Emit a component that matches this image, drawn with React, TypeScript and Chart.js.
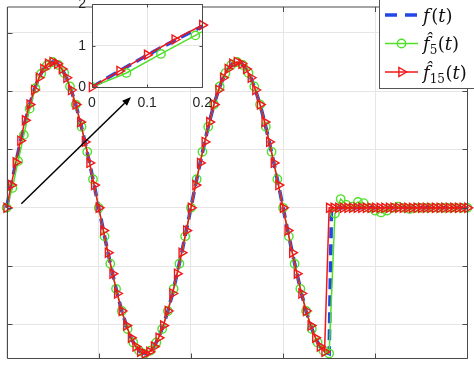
import React, { useEffect, useRef } from "react";
import { Chart, registerables } from "chart.js";

Chart.register(...registerables);

// ---------------- data ----------------
const tRed = [
  0, 0.05, 0.1, 0.15, 0.2, 0.25, 0.3, 0.35, 0.4, 0.45, 0.5, 0.55, 0.6, 0.65, 0.7, 0.75, 0.8, 0.85, 0.9, 0.95,
  1, 1.05, 1.1, 1.15, 1.2, 1.25, 1.3, 1.35, 1.4, 1.45, 1.5, 1.55, 1.6, 1.65, 1.7, 1.75, 1.8, 1.85, 1.9, 1.95,
  2, 2.05, 2.1, 2.15, 2.2, 2.25, 2.3, 2.35, 2.4, 2.45, 2.5, 2.55, 2.6, 2.65, 2.7, 2.75, 2.8, 2.85, 2.9, 2.95,
  3, 3.05, 3.1, 3.15, 3.2, 3.25, 3.3, 3.35, 3.4, 3.45, 3.5, 3.55, 3.6, 3.65, 3.7, 3.75, 3.8, 3.85, 3.9, 3.95,
  4, 4.05, 4.1, 4.15, 4.2, 4.25, 4.3, 4.35, 4.4, 4.45, 4.5, 4.55, 4.6, 4.65, 4.7, 4.75, 4.8, 4.85, 4.9, 4.95, 5,
];
const fRed = [
  0, 0.39, 0.78, 1.15, 1.5, 1.77, 2.02, 2.23, 2.38, 2.47, 2.5, 2.47, 2.38, 2.23, 2.02, 1.77, 1.47, 1.13, 0.77, 0.39,
  0, -0.39, -0.77, -1.13, -1.47, -1.77, -2.02, -2.23, -2.38, -2.47, -2.5, -2.47, -2.38, -2.23, -2.02, -1.77, -1.47, -1.13, -0.77, -0.39,
  0, 0.39, 0.77, 1.13, 1.47, 1.77, 2.02, 2.23, 2.38, 2.47, 2.5, 2.47, 2.38, 2.23, 2.02, 1.77, 1.47, 1.13, 0.77, 0.39,
  0, -0.39, -0.77, -1.13, -1.47, -1.77, -2.02, -2.23, -2.38, -2.47, 0, 0, 0, 0, 0, 0, 0, 0, 0, 0,
  0, 0, 0, 0, 0, 0, 0, 0, 0, 0, 0, 0, 0, 0, 0, 0, 0, 0, 0, 0, 0,
];
const tGreen = [
  0, 0.0625, 0.125, 0.1875, 0.25, 0.3125, 0.375, 0.4375, 0.5, 0.5625, 0.625, 0.6875, 0.75, 0.8125, 0.875, 0.9375,
  1, 1.0625, 1.125, 1.1875, 1.25, 1.3125, 1.375, 1.4375, 1.5, 1.5625, 1.625, 1.6875, 1.75, 1.8125, 1.875, 1.9375,
  2, 2.0625, 2.125, 2.1875, 2.25, 2.3125, 2.375, 2.4375, 2.5, 2.5625, 2.625, 2.6875, 2.75, 2.8125, 2.875, 2.9375,
  3, 3.0625, 3.125, 3.1875, 3.25, 3.3125, 3.375, 3.4375, 3.5, 3.5625, 3.625, 3.6875, 3.75, 3.8125, 3.875, 3.9375,
  4, 4.0625, 4.125, 4.1875, 4.25, 4.3125, 4.375, 4.4375, 4.5, 4.5625, 4.625, 4.6875, 4.75, 4.8125, 4.875, 4.9375, 5,
];
const fGreen = [
  0, 0.34, 0.8, 1.25, 1.7, 2.05, 2.3, 2.44, 2.5, 2.45, 2.31, 2.08, 1.77, 1.39, 0.96, 0.49,
  0, -0.49, -0.96, -1.39, -1.77, -2.08, -2.31, -2.45, -2.5, -2.45, -2.31, -2.08, -1.77, -1.39, -0.96, -0.49,
  0, 0.49, 0.96, 1.39, 1.77, 2.08, 2.31, 2.45, 2.5, 2.45, 2.31, 2.08, 1.77, 1.39, 0.96, 0.49,
  0, -0.49, -0.96, -1.39, -1.77, -2.08, -2.31, -2.45, -2.5, -0.1, 0.15, 0.05, 0.02, 0.1, 0.08, 0,
  -0.05, -0.08, -0.05, 0, 0.02, 0, -0.02, 0, 0, 0, 0, 0, 0, 0, 0, 0, 0,
];
const tBlue = [
  0, 0.05, 0.1, 0.15, 0.2, 0.25, 0.3, 0.35, 0.4, 0.45, 0.5, 0.55, 0.6, 0.65, 0.7, 0.75, 0.8, 0.85, 0.9, 0.95,
  1, 1.05, 1.1, 1.15, 1.2, 1.25, 1.3, 1.35, 1.4, 1.45, 1.5, 1.55, 1.6, 1.65, 1.7, 1.75, 1.8, 1.85, 1.9, 1.95,
  2, 2.05, 2.1, 2.15, 2.2, 2.25, 2.3, 2.35, 2.4, 2.45, 2.5, 2.55, 2.6, 2.65, 2.7, 2.75, 2.8, 2.85, 2.9, 2.95,
  3, 3.05, 3.1, 3.15, 3.2, 3.25, 3.3, 3.35, 3.4, 3.45, 3.5, 3.525, 5,
];
const fBlue = [
  0, 0.39, 0.77, 1.13, 1.47, 1.77, 2.02, 2.23, 2.38, 2.47, 2.5, 2.47, 2.38, 2.23, 2.02, 1.77, 1.47, 1.13, 0.77, 0.39,
  0, -0.39, -0.77, -1.13, -1.47, -1.77, -2.02, -2.23, -2.38, -2.47, -2.5, -2.47, -2.38, -2.23, -2.02, -1.77, -1.47, -1.13, -0.77, -0.39,
  0, 0.39, 0.77, 1.13, 1.47, 1.77, 2.02, 2.23, 2.38, 2.47, 2.5, 2.47, 2.38, 2.23, 2.02, 1.77, 1.47, 1.13, 0.77, 0.39,
  0, -0.39, -0.77, -1.13, -1.47, -1.77, -2.02, -2.23, -2.38, -2.47, -2.5, 0, 0,
];

const xTicks = [0, 1, 2, 3, 4, 5];
const yTicks = [-2, -1, 0, 1, 2, 3];
const xRange = [0, 5];
const yRange = [-2.583, 3.45];

const insetXTicks = [0, 0.1, 0.2];
const insetYTicks = [0, 1, 2];
const insetXRange = [0, 0.2];
const insetYRange = [0, 2];

const arrowFrom = [0.16, 0.07];
const arrowTo = [1.35, 1.9];

const legendEntries = [
  { hat: false, sub: "" }, // f(t)
  { hat: true, sub: "5" }, // f̂5(t)
  { hat: true, sub: "15" }, // f̂15(t)
];

// ---------------- styles ----------------
const BLUE = "#2347e6";
const GREEN = "#4fe02a";
const RED = "#f01818";
const AXIS = "#4a4a4a";
const GRID = "#e6e6e6";

function pts(ts: number[], fs: number[]) {
  return ts.map((t, i) => ({ x: t, y: fs[i] }));
}

function makeDatasets(inset: boolean) {
  const red = pts(tRed, fRed);
  return [
    {
      label: "f(t)",
      data: pts(tBlue, fBlue),
      borderColor: BLUE,
      borderWidth: 3.6,
      borderDash: [11, 6],
      pointRadius: 0,
      order: 3,
      clip: inset ? 0 : false,
    },
    {
      label: "f5(t)",
      data: pts(tGreen, fGreen),
      borderColor: GREEN,
      borderWidth: 1.5,
      pointStyle: "circle",
      pointRadius: 4.2,
      pointBorderWidth: 1.4,
      pointBorderColor: GREEN,
      pointBackgroundColor: "rgba(0,0,0,0)",
      order: 2,
      clip: inset ? 0 : false,
    },
    {
      label: "f15(t)",
      data: inset ? red.filter((p) => p.x <= insetXRange[1] + 1e-9) : red,
      borderColor: RED,
      borderWidth: 1.5,
      pointStyle: "triangle",
      pointRotation: 90,
      pointRadius: 5.2,
      pointBorderWidth: 1.4,
      pointBorderColor: RED,
      pointBackgroundColor: "rgba(0,0,0,0)",
      order: 1,
      clip: false,
    },
  ];
}

function drawBox(chart: any, tickLen: number, topHalf: boolean) {
  const { ctx, chartArea, scales } = chart;
  const { left, right, top, bottom } = chartArea;
  const L = Math.round(left) + 0.5;
  const R = Math.round(right) + 0.5;
  const B = Math.round(bottom) + 0.5;
  const T = topHalf ? Math.round(top) : Math.round(top) + 0.5;
  ctx.save();
  ctx.strokeStyle = AXIS;
  ctx.lineWidth = 1;
  ctx.setLineDash([]);
  ctx.beginPath();
  ctx.moveTo(L, T);
  ctx.lineTo(R, T);
  ctx.lineTo(R, B);
  ctx.lineTo(L, B);
  ctx.closePath();
  ctx.stroke();
  ctx.beginPath();
  scales.x.ticks.forEach((tk: any) => {
    const px = Math.round(scales.x.getPixelForValue(tk.value)) + 0.5;
    ctx.moveTo(px, B);
    ctx.lineTo(px, B - tickLen);
    ctx.moveTo(px, T);
    ctx.lineTo(px, T + tickLen);
  });
  scales.y.ticks.forEach((tk: any) => {
    const py = Math.round(scales.y.getPixelForValue(tk.value)) + 0.5;
    ctx.moveTo(L, py);
    ctx.lineTo(L + tickLen, py);
    ctx.moveTo(R, py);
    ctx.lineTo(R - tickLen, py);
  });
  ctx.stroke();
  ctx.restore();
}

function drawMath(ctx: CanvasRenderingContext2D, x: number, base: number, hat: boolean, sub: string) {
  const fam = '"DejaVu Serif", serif';
  let cx = x;
  const seg = (txt: string, font: string, dy = 0, extra = 0) => {
    ctx.font = font;
    ctx.fillText(txt, cx, base + dy);
    cx += ctx.measureText(txt).width + extra;
  };
  seg(hat ? "f\u0302" : "f", `italic 18px ${fam}`, 0, sub ? 0 : 1.5);
  if (sub) seg(sub, `12px ${fam}`, 4, 0.5);
  seg("(", `18px ${fam}`);
  seg("t", `italic 18px ${fam}`);
  seg(")", `18px ${fam}`);
}

const mainPlugin = {
  id: "mainDecor",
  afterDatasetsDraw(chart: any) {
    drawBox(chart, 5, true);
    const { ctx, scales } = chart;
    // arrow
    const x1 = scales.x.getPixelForValue(arrowFrom[0]);
    const y1 = scales.y.getPixelForValue(arrowFrom[1]);
    const x2 = scales.x.getPixelForValue(arrowTo[0]);
    const y2 = scales.y.getPixelForValue(arrowTo[1]);
    const ang = Math.atan2(y2 - y1, x2 - x1);
    const hl = 9, hw = 3.5;
    const bx = x2 - hl * Math.cos(ang);
    const by = y2 - hl * Math.sin(ang);
    ctx.save();
    ctx.strokeStyle = "#000";
    ctx.fillStyle = "#000";
    ctx.lineWidth = 1.5;
    ctx.beginPath();
    ctx.moveTo(x1, y1);
    ctx.lineTo(bx, by);
    ctx.stroke();
    ctx.beginPath();
    ctx.moveTo(x2, y2);
    ctx.lineTo(bx + hw * Math.sin(ang), by - hw * Math.cos(ang));
    ctx.lineTo(bx - hw * Math.sin(ang), by + hw * Math.cos(ang));
    ctx.closePath();
    ctx.fill();
    ctx.restore();

    // legend
    const lx = 379.5, ly = -2, lw = 100, lh = 90.5;
    ctx.save();
    ctx.fillStyle = "#fff";
    ctx.fillRect(lx, ly, lw, lh);
    ctx.strokeStyle = "#555";
    ctx.lineWidth = 1;
    ctx.strokeRect(lx, ly, lw, lh);
    const rows = [15, 43.5, 72];
    const sx0 = 385, sx1 = 418;
    const ds = chart.data.datasets;
    rows.forEach((ry, i) => {
      const d = ds[i];
      ctx.save();
      ctx.strokeStyle = d.borderColor;
      ctx.lineWidth = d.borderWidth;
      ctx.setLineDash(i === 0 ? [12, 8] : []);
      ctx.beginPath();
      ctx.moveTo(sx0, ry);
      ctx.lineTo(sx1, ry);
      ctx.stroke();
      ctx.setLineDash([]);
      if (d.pointRadius > 0) {
        ctx.lineWidth = d.pointBorderWidth;
        ctx.strokeStyle = d.pointBorderColor;
        const cx = (sx0 + sx1) / 2;
        ctx.beginPath();
        if (d.pointStyle === "circle") {
          ctx.arc(cx, ry, d.pointRadius, 0, Math.PI * 2);
        } else {
          const r = d.pointRadius;
          const rot = (d.pointRotation * Math.PI) / 180;
          for (let k = 0; k < 3; k++) {
            const a = rot + (k * 2 * Math.PI) / 3;
            const px = cx + Math.sin(a) * r;
            const py = ry - Math.cos(a) * r;
            if (k === 0) ctx.moveTo(px, py);
            else ctx.lineTo(px, py);
          }
          ctx.closePath();
        }
        ctx.stroke();
      }
      ctx.restore();
      ctx.fillStyle = "#111";
      ctx.textBaseline = "alphabetic";
      drawMath(ctx, 423, ry + 6.5, legendEntries[i].hat, legendEntries[i].sub);
    });
    ctx.restore();
  },
};

const insetPlugin = {
  id: "insetDecor",
  beforeDraw(chart: any) {
    const { ctx, chartArea } = chart;
    if (!chartArea) return;
    ctx.save();
    ctx.fillStyle = "#fff";
    ctx.fillRect(chartArea.left, chartArea.top, chartArea.right - chartArea.left, chartArea.bottom - chartArea.top);
    ctx.restore();
  },
  afterDatasetsDraw(chart: any) {
    drawBox(chart, 3, false);
  },
};

export default function App() {
  const mainRef = useRef<HTMLCanvasElement>(null);
  const insetRef = useRef<HTMLCanvasElement>(null);

  useEffect(() => {
    const main = new Chart(mainRef.current as HTMLCanvasElement, {
      type: "line",
      data: { datasets: makeDatasets(false) as any },
      options: {
        animation: false,
        responsive: false,
        maintainAspectRatio: false,
        events: [],
        layout: { padding: { left: 3, right: 1, top: 0, bottom: 3 } },
        plugins: { legend: { display: false }, tooltip: { enabled: false } },
        scales: {
          x: {
            type: "linear",
            min: xRange[0],
            max: xRange[1],
            afterBuildTicks: (s: any) => {
              s.ticks = xTicks.map((v) => ({ value: v }));
            },
            ticks: { display: false },
            grid: { color: GRID, drawTicks: false },
            border: { display: false },
          },
          y: {
            type: "linear",
            min: yRange[0],
            max: yRange[1],
            afterBuildTicks: (s: any) => {
              s.ticks = yTicks.map((v) => ({ value: v }));
            },
            ticks: { display: false },
            grid: { color: GRID, drawTicks: false },
            border: { display: false },
          },
        },
      } as any,
      plugins: [mainPlugin],
    });

    const labelFont = { family: '"Liberation Sans", Arial, sans-serif', size: 14 };
    const inset = new Chart(insetRef.current as HTMLCanvasElement, {
      type: "line",
      data: { datasets: makeDatasets(true) as any },
      options: {
        animation: false,
        responsive: false,
        maintainAspectRatio: false,
        events: [],
        layout: { padding: { left: 0, right: 17, top: 9, bottom: 0 } },
        plugins: { legend: { display: false }, tooltip: { enabled: false } },
        scales: {
          x: {
            type: "linear",
            min: insetXRange[0],
            max: insetXRange[1],
            afterBuildTicks: (s: any) => {
              s.ticks = insetXTicks.map((v) => ({ value: v }));
            },
            afterFit: (s: any) => {
              s.height = 28;
            },
            ticks: { font: labelFont, color: "#262626", padding: 8, maxRotation: 0, autoSkip: false, callback: (v: any) => String(v) },
            grid: { color: GRID, drawTicks: false },
            border: { display: false },
          },
          y: {
            type: "linear",
            min: insetYRange[0],
            max: insetYRange[1],
            afterBuildTicks: (s: any) => {
              s.ticks = insetYTicks.map((v) => ({ value: v }));
            },
            afterFit: (s: any) => {
              s.width = 32;
            },
            ticks: { font: labelFont, color: "#262626", padding: 6, callback: (v: any) => String(v) },
            grid: { color: GRID, drawTicks: false },
            border: { display: false },
          },
        },
      } as any,
      plugins: [insetPlugin],
    });

    return () => {
      main.destroy();
      inset.destroy();
    };
  }, []);

  return (
    <div style={{ position: "fixed", left: 0, top: 0, width: 474, height: 365, background: "#fff", overflow: "hidden" }}>
      <canvas ref={mainRef} width={474} height={365} style={{ position: "absolute", left: 0, top: 0, width: 474, height: 365 }} />
      <canvas ref={insetRef} width={160} height={125} style={{ position: "absolute", left: 60, top: -10, width: 160, height: 125 }} />
    </div>
  );
}
